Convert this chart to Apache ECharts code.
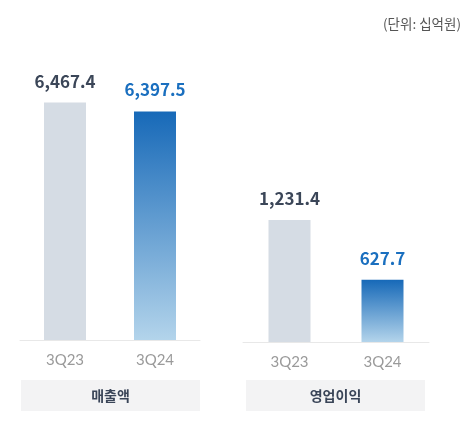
<!DOCTYPE html>
<html><head><meta charset="utf-8">
<script src="https://cdn.jsdelivr.net/npm/echarts@6/dist/echarts.min.js"></script>
<style>html,body{margin:0;padding:0;background:#fff}#c{width:465px;height:426px}</style>
</head><body><div id="c"></div>
<script>
const categories = ['3Q23', '3Q24'];
const salesValues = [6467.4, 6397.5];
const profitValues = [1231.4, 627.7];
const panelTitles = ['매출액', '영업이익'];
const unitText = '(단위: 십억원)';

const FONT = '"Noto Sans CJK KR", "Noto Sans", sans-serif';
const gray = '#d5dce4';
const blueGrad = new echarts.graphic.LinearGradient(0, 0, 0, 1, [
  {offset: 0, color: '#1769b8'},
  {offset: 1, color: '#b3d4eb'}
]);
function fmt(v){ return v.toLocaleString('en-US', {minimumFractionDigits:1, maximumFractionDigits:1}); }
function makeData(vals){
  return vals.map((v, i) => ({
    value: v,
    itemStyle: {color: i === 0 ? gray : blueGrad},
    label: {color: i === 0 ? '#3b4658' : '#1a6fbf'}
  }));
}
const chart = echarts.init(document.getElementById('c'));
const axisCommon = {
  type: 'category', data: categories,
  axisLine: {lineStyle: {color: '#e8e8e8', width: 1}},
  axisTick: {show: false},
  axisLabel: {color: '#9a9a9a', fontSize: 15, fontFamily: 'Lato, ' + FONT, margin: 13}
};
const labelCommon = {show: true, position: 'top', distance: 13, fontSize: 17, fontWeight: 'bold', fontFamily: FONT, formatter: p => fmt(p.value)};
chart.setOption({
  animation: false,
  grid: [
    {left: 20, width: 180, top: 40, height: 300},
    {left: 243, width: 186, top: 40, height: 302}
  ],
  xAxis: [
    Object.assign({gridIndex: 0}, axisCommon),
    Object.assign({gridIndex: 1}, axisCommon)
  ],
  yAxis: [
    {gridIndex: 0, type: 'value', min: 4600, max: 6960, show: false},
    {gridIndex: 1, type: 'value', min: 0, max: 3048, show: false}
  ],
  series: [
    {type: 'bar', xAxisIndex: 0, yAxisIndex: 0, barWidth: 42, data: makeData(salesValues), label: labelCommon},
    {type: 'bar', xAxisIndex: 1, yAxisIndex: 1, barWidth: 42, data: makeData(profitValues), label: labelCommon}
  ],
  graphic: [
    {type: 'text', right: 4, top: 17, style: {text: unitText, fill: '#555', font: '13.5px ' + FONT}},
    {type: 'rect', shape: {x: 21, y: 380, width: 179, height: 31}, style: {fill: '#f3f3f4'}},
    {type: 'rect', shape: {x: 246, y: 380, width: 179, height: 31}, style: {fill: '#f3f3f4'}},
    {type: 'text', x: 110.5, y: 396, style: {text: panelTitles[0], fill: '#3a4558', font: 'bold 14px ' + FONT, align: 'center', verticalAlign: 'middle'}},
    {type: 'text', x: 335.5, y: 396, style: {text: panelTitles[1], fill: '#3a4558', font: 'bold 14px ' + FONT, align: 'center', verticalAlign: 'middle'}}
  ]
});
</script></body></html>
